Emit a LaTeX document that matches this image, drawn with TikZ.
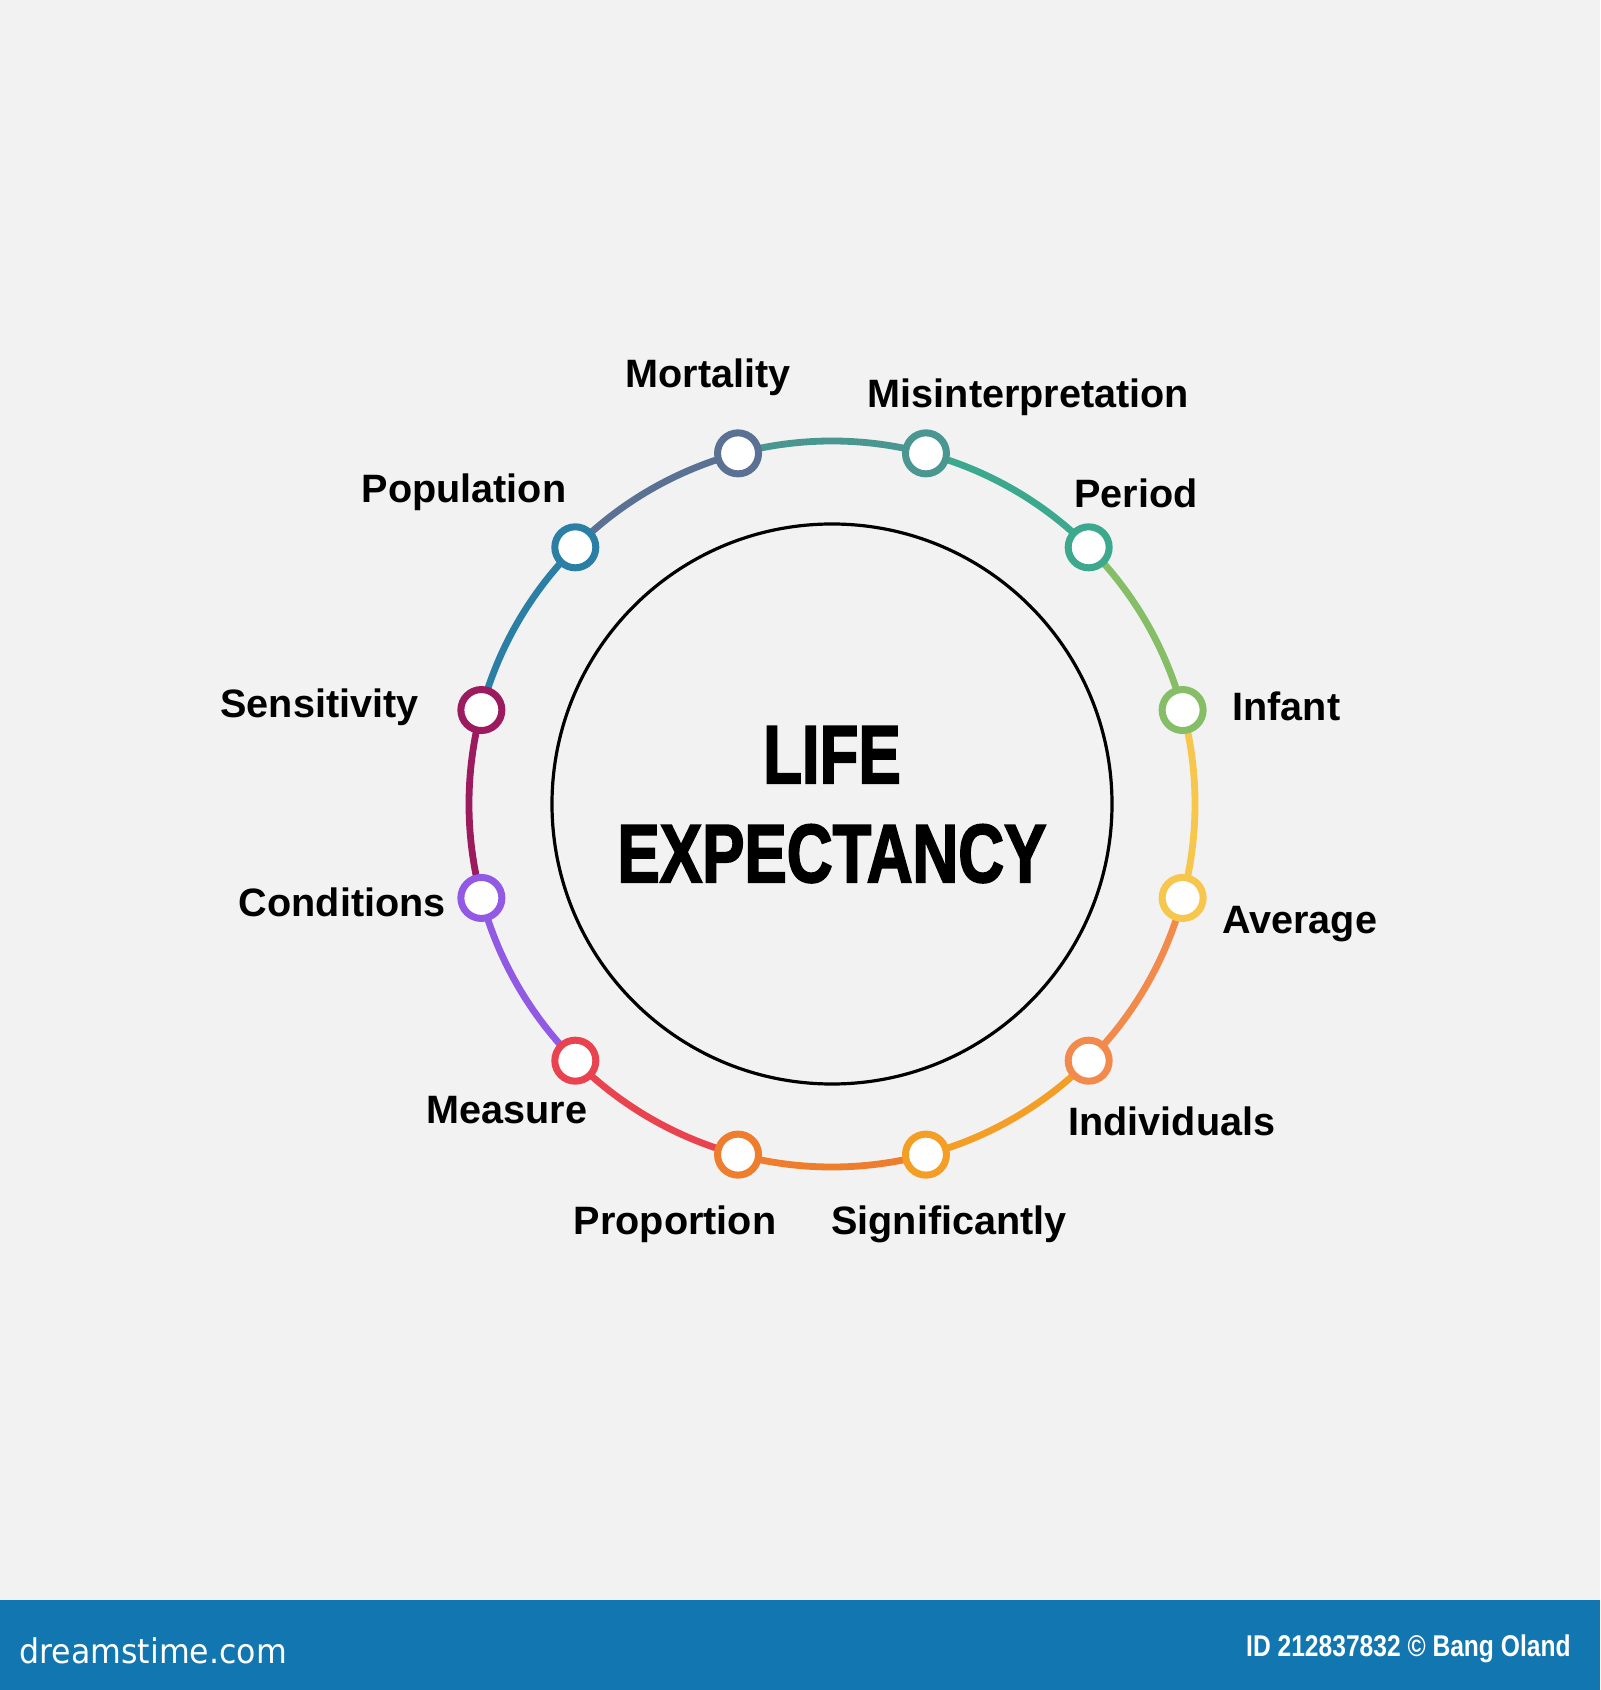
\documentclass[tikz,border=0pt]{standalone}
\usepackage{fontspec}
\setmainfont{Liberation Sans}
\newfontfamily\titlefont{Liberation Sans}[BoldFeatures={FakeBold=2.5}]
\newfontfamily\logofont{DejaVu Sans}
\usepackage{graphicx}
\usetikzlibrary{backgrounds}

\definecolor{bgray}{HTML}{F2F2F2}
\definecolor{barblue}{HTML}{1276B0}
\definecolor{cPop}{HTML}{2B7FA5}
\definecolor{cMort}{HTML}{5A7194}
\definecolor{cMis}{HTML}{4A9690}
\definecolor{cPer}{HTML}{3CA98F}
\definecolor{cInf}{HTML}{86BD67}
\definecolor{cAvg}{HTML}{F7C64C}
\definecolor{cInd}{HTML}{F28A4C}
\definecolor{cSig}{HTML}{F59E26}
\definecolor{cProp}{HTML}{EF7D2E}
\definecolor{cMeas}{HTML}{EA4350}
\definecolor{cCond}{HTML}{9159E4}
\definecolor{cSens}{HTML}{9C1B5E}

\tikzset{
  ringdot/.style={circle, draw=#1, fill=white, line width=3.5pt,
    minimum size=20.5pt, inner sep=0pt},
  ringseg/.style={draw=#1, line width=3.4pt, bend right=15, looseness=0.87},
  lbl/.style={font=\bfseries\fontsize{19.8}{24}\selectfont, inner sep=0pt},
}

\begin{document}
\begin{tikzpicture}[x=0.5pt, y=0.5pt]

  \newcommand\Rring{363}

  \useasboundingbox (-832,-886) rectangle (768,804);

  % centre
  \node[circle, draw, line width=1.6pt, minimum size=280pt] (core) at (0,0) {};
  \node[font=\titlefont\bfseries\fontsize{41.2}{48}\selectfont, anchor=base, inner sep=0pt]
    (life) at (0,21) {\scalebox{0.77}[1]{LIFE}};
  \node[font=\titlefont\bfseries\fontsize{41.2}{48}\selectfont, anchor=base, inner sep=0pt]
    (expect) at (0,-78) {\scalebox{0.77}[1]{EXPECTANCY}};

  % dots on the ring
  \node[ringdot=cInf]  (dInf)  at (15:\Rring) {};
  \node[ringdot=cPer]  (dPer)  at (45:\Rring) {};
  \node[ringdot=cMis]  (dMis)  at (75:\Rring) {};
  \node[ringdot=cMort] (dMort) at (105:\Rring) {};
  \node[ringdot=cPop]  (dPop)  at (135:\Rring) {};
  \node[ringdot=cSens] (dSens) at (165:\Rring) {};
  \node[ringdot=cCond] (dCond) at (195:\Rring) {};
  \node[ringdot=cMeas] (dMeas) at (225:\Rring) {};
  \node[ringdot=cProp] (dProp) at (255:\Rring) {};
  \node[ringdot=cSig]  (dSig)  at (285:\Rring) {};
  \node[ringdot=cInd]  (dInd)  at (315:\Rring) {};
  \node[ringdot=cAvg]  (dAvg)  at (345:\Rring) {};

  % labels
  \node[lbl, anchor=base] (lMort) at (-124,416) {Mortality};
  \node[lbl, anchor=base] (lMis) at (196.5,396.5) {Misinterpretation};
  \node[lbl, anchor=base] (lPer) at (304,296) {Period};
  \node[lbl, anchor=base west] (lInf) at (400,83) {Infant};
  \node[lbl, anchor=base west] (lAvg) at (390,-129.5) {Average};
  \node[lbl, anchor=base west] (lInd) at (236,-331) {Individuals};
  \node[lbl, anchor=base] (lSig) at (117,-430) {Significantly};
  \node[lbl, anchor=base] (lProp) at (-157,-430) {Proportion};
  \node[lbl, anchor=base] (lMeas) at (-325,-319) {Measure};
  \node[lbl, anchor=base east] (lCond) at (-386,-113) {Conditions};
  \node[lbl, anchor=base east] (lSens) at (-413,86) {Sensitivity};
  \node[lbl, anchor=base] (lPop) at (-368,301) {Population};

  % bottom bar texts
  \node[font=\logofont\fontsize{17}{19}\selectfont, text=white, anchor=base west, inner sep=0pt]
    (brand) at (-813,-859) {\scalebox{0.93}[1]{dreamstime.com}};
  \node[font=\bfseries\fontsize{15}{18}\selectfont, text=white, anchor=base east, inner sep=0pt]
    (credit) at (739,-852) {\scalebox{0.82}[1]{ID 212837832 © Bang Oland}};

  \begin{scope}[on background layer]
    \fill[bgray] (-832,-886) rectangle (768,804);
    \fill[barblue] (-832,-886) rectangle (768,-796);

    \draw[ringseg=cInf]  (dInf.center)  to (dPer.center);  % Infant->Period
    \draw[ringseg=cPer]  (dPer.center)  to (dMis.center);  % Period->Misinterpretation
    \draw[ringseg=cMis]  (dMis.center)  to (dMort.center); % Misinterpretation->Mortality
    \draw[ringseg=cMort] (dMort.center) to (dPop.center);  % Mortality->Population
    \draw[ringseg=cPop]  (dPop.center)  to (dSens.center); % Population->Sensitivity
    \draw[ringseg=cSens] (dSens.center) to (dCond.center); % Sensitivity->Conditions
    \draw[ringseg=cCond] (dCond.center) to (dMeas.center); % Conditions->Measure
    \draw[ringseg=cMeas] (dMeas.center) to (dProp.center); % Measure->Proportion
    \draw[ringseg=cProp] (dProp.center) to (dSig.center);  % Proportion->Significantly
    \draw[ringseg=cSig]  (dSig.center)  to (dInd.center);  % Significantly->Individuals
    \draw[ringseg=cInd]  (dInd.center)  to (dAvg.center);  % Individuals->Average
    \draw[ringseg=cAvg]  (dAvg.center)  to (dInf.center);  % Average->Infant
  \end{scope}

\end{tikzpicture}
\end{document}
